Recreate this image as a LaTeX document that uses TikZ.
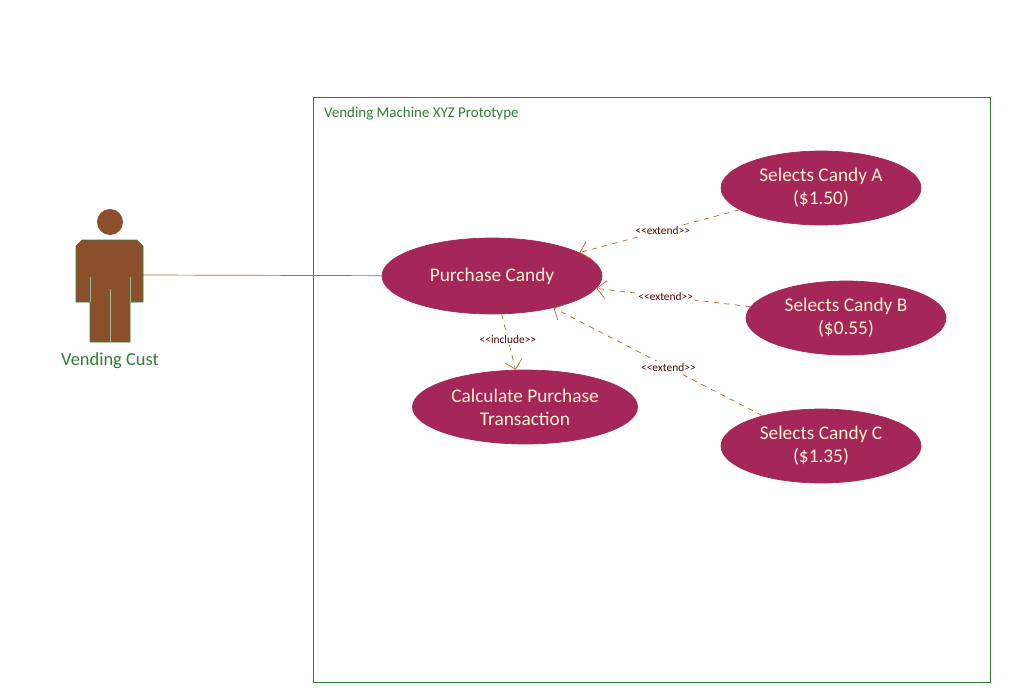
\documentclass[tikz,border=0pt]{standalone}
\usepackage{fontspec}
\setmainfont{Carlito}
\usetikzlibrary{shapes.geometric,arrows.meta}
\definecolor{usecase}{HTML}{A5275A}
\definecolor{usetext}{HTML}{FFF2CC}
\definecolor{frameg}{HTML}{2E7D32}
\definecolor{actorb}{HTML}{8B4F2B}
\definecolor{dashc}{HTML}{C0641E}
\tikzset{
  usecase/.style={ellipse, fill=usecase, draw=usecase, text=usetext, align=center,
    minimum width=4cm, minimum height=1.48cm, font=\fontsize{11}{13}\selectfont},
  dep/.style={dashed, dashc, thin, -{Straight Barb[length=5pt]}},
  stereo/.style={font=\fontsize{6.5}{7}\selectfont, text=black!70!red, fill=white, inner sep=1pt}
}
\newcommand{\stlt}{{<}{<}}
\newcommand{\stgt}{{>}{>}}
\begin{document}
\begin{tikzpicture}[x=0.02cm,y=-0.02cm]
\useasboundingbox (0,0) rectangle (1024,693);
% system boundary
\draw[frameg] (313,97) rectangle (990,682);
\node[anchor=west, text=frameg, font=\fontsize{8.5}{10}\selectfont] (title) at (318,114) {Vending Machine XYZ Prototype};
% actor
\fill[actorb] (110,222) circle (13);
\fill[actorb, draw=frameg, line width=0.3pt] (82,240) -- (137,240) -- (143,246) -- (143,302) -- (130,302) -- (130,342)
  -- (90,342) -- (90,302) -- (76,302) -- (76,246) -- cycle;
\draw[frameg!50, line width=0.4pt] (90,277) -- (90,302) (130,277) -- (130,302) (110,289) -- (110,342);
\coordinate (hand) at (143,275);
\node[text=frameg, font=\fontsize{10.5}{12}\selectfont] (cust) at (110,361) {Vending Cust};
% use cases
\node[usecase, minimum width=4.4cm, minimum height=1.52cm] (purchase) at (492,276) {Purchase Candy};
\node[usecase, minimum width=4.4cm] (calc) at (525,407) {Calculate Purchase\\Transaction};
\node[usecase] (candyA) at (821,188) {Selects Candy A\\(\$1.50)};
\node[usecase] (candyB) at (846,318) {Selects Candy B\\(\$0.55)};
\node[usecase] (candyC) at (821,446) {Selects Candy C\\(\$1.35)};
% connectors
\draw[dashc] (hand) -- (purchase);
\draw[dep] (purchase) -- node[stereo, pos=0.45] {\stlt include\stgt} (calc);
\draw[dep] (candyA) -- node[stereo, pos=0.48] {\stlt extend\stgt} (purchase);
\draw[dep] (candyB) -- node[stereo, pos=0.55] {\stlt extend\stgt} (purchase);
\draw[dep] (candyC) -- node[stereo, pos=0.45] {\stlt extend\stgt} (purchase);
\end{tikzpicture}
\end{document}
